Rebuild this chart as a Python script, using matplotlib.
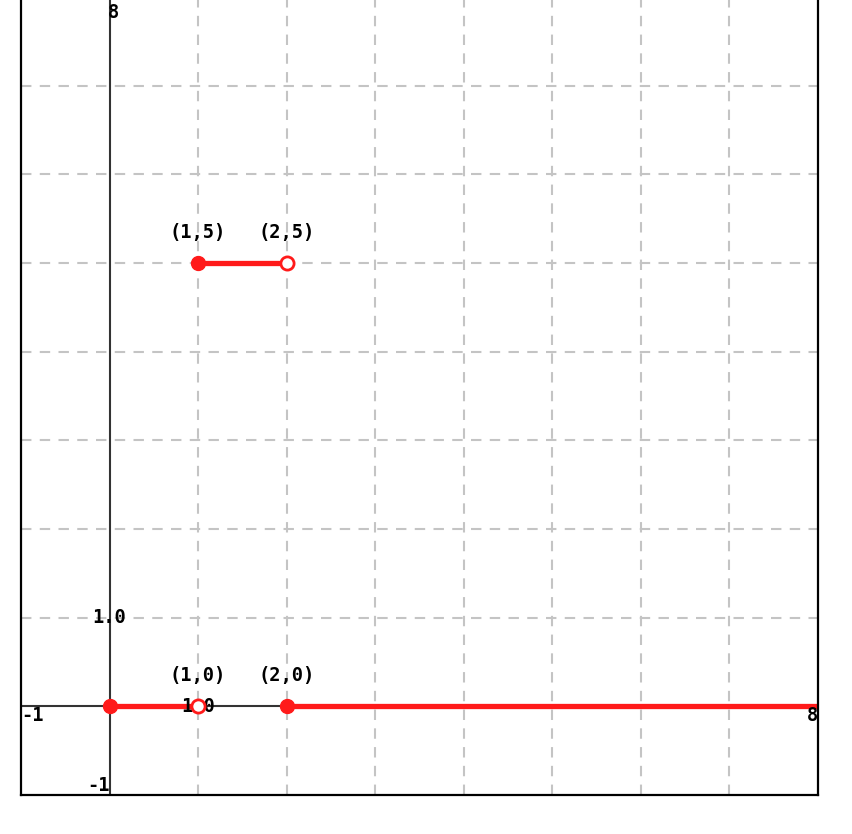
import matplotlib
matplotlib.use("Agg")
import matplotlib.pyplot as plt

# piecewise segments: y = seg_y on [seg_start, seg_end)
seg_start = [0, 1, 2]
seg_end = [1, 2, 8]
seg_y = [0, 5, 0]

# closed / open endpoints
closed_x = [0, 1, 2]
closed_y = [0, 5, 0]
open_x = [1, 2]
open_y = [0, 5]

# labelled points
label_x = [1, 2, 1, 2]
label_y = [5, 5, 0, 0]

xmin, xmax = -1, 8
ymin, ymax = -1, 8

red = '#ff1a1a'
mono = {'family': 'DejaVu Sans Mono', 'weight': 'bold', 'size': 13.5}

fig = plt.figure(figsize=(8.52, 8.34), dpi=100)
ax = fig.add_axes([21 / 852, 39 / 834, 797 / 852, 798 / 834])
ax.set_xlim(xmin, xmax)
ax.set_ylim(ymin, ymax)

# dashed grid every unit
for gx in range(xmin + 1, xmax):
    if gx != 0:
        ax.axvline(gx, color='#c4c4c4', lw=1.5, ls=(0, (5, 4)), zorder=1)
for gy in range(ymin + 1, ymax):
    if gy != 0:
        ax.axhline(gy, color='#c4c4c4', lw=1.5, ls=(0, (5, 4)), zorder=1)

# axes through origin
ax.axvline(0, color='#333333', lw=1.5, zorder=1.5)
ax.axhline(0, color='#333333', lw=1.5, zorder=1.5)

for s in ax.spines.values():
    s.set_linewidth(1.6)
    s.set_color('black')
ax.set_xticks([])
ax.set_yticks([])

# function segments
for x0, x1, y in zip(seg_start, seg_end, seg_y):
    ax.plot([x0, x1], [y, y], color=red, lw=3.8, solid_capstyle='butt', zorder=2)

# axis labels
ax.annotate('8', (0, ymax), xytext=(-1, -4), textcoords='offset points',
            ha='left', va='top', zorder=3, **mono)
ax.text(0, 1, '1.0', ha='center', va='center', zorder=3, **mono)
ax.text(0, ymin, '-1', ha='right', va='bottom', zorder=3, **mono)
ax.text(xmin, 0, '-1', ha='left', va='top', zorder=3, **mono)
ax.text(xmax, 0, '8', ha='right', va='top', zorder=3, **mono)
ax.text(1, 0, '1.0', ha='center', va='center', zorder=3, **mono)

# endpoints
ax.plot(closed_x, closed_y, 'o', color=red, ms=10, zorder=4, clip_on=False)
ax.plot(open_x, open_y, 'o', mfc='white', mec=red, mew=2, ms=9.5, zorder=4)

# point labels
for px, py in zip(label_x, label_y):
    ax.annotate('(%d,%d)' % (px, py), (px, py), xytext=(0, 22),
                textcoords='offset points', ha='center', va='center',
                zorder=3, **mono)

fig.savefig('out.png', dpi=100)
